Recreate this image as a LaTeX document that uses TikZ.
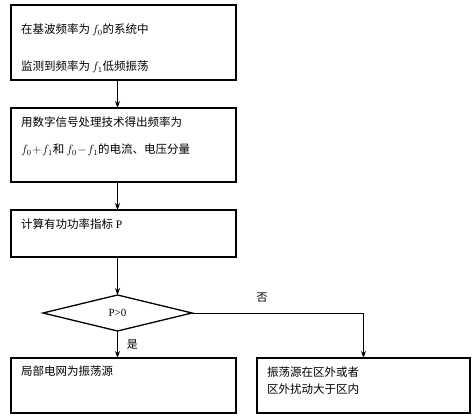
\documentclass[tikz,border=0pt]{standalone}
\usepackage{fontspec}
\setmainfont{Liberation Serif}
\newfontfamily\cjk{Noto Sans CJK SC}
\usetikzlibrary{arrows.meta,shapes.geometric}

\begin{document}
\begin{tikzpicture}[
    x=1pt,y=-1pt,
    >={Stealth[length=7pt,width=5pt]},
    flow/.style={->,line width=0.9pt},
    box/.style={draw,line width=1.3pt,inner sep=0pt,outer sep=0pt,minimum width=225pt},
    dec/.style={diamond,draw,line width=1.3pt,inner sep=0pt,outer sep=0pt,minimum width=149pt,minimum height=36pt,font=\fontsize{11}{13}\selectfont},
    txt/.style={anchor=base west,inner sep=0pt,font=\fontsize{11.5}{14}\selectfont\cjk},
    lab/.style={inner sep=0pt,font=\fontsize{11}{13}\selectfont\cjk}]
\useasboundingbox (0,0) rectangle (474,419);
% ===== boxes of the main column =====
\node[box,minimum height=75pt] (detect) at (123.5,42.5) {};
\node[box,minimum height=74pt] (dsp)    at (123.5,145)  {};
\node[box,minimum height=47pt] (power)  at (123.5,233.5) {};
\node[dec] (test) at (117.5,313) {P>0};
\node[box,minimum height=55pt] (local)  at (123.5,385.5) {};
\node[box,minimum height=55pt,minimum width=213pt] (outer) at (363.5,385.5) {};
% ===== texts inside the boxes =====
\node[txt] (t1a) at (21,34)  {在基波频率为$\,f_0$的系统中};
\node[txt] (t1b) at (21,71)  {监测到频率为$\,f_1$低频振荡};
\node[txt] (t2a) at (21,127) {用数字信号处理技术得出频率为};
\node[txt] (t2b) at (21,154) {$f_0\!+\!f_1$和$\,f_0\!-\!f_1$的电流、电压分量};
\node[txt] (t3)  at (21,229) {计算有功功率指标 {\rmfamily P}};
\node[txt] (t4)  at (21,376) {局部电网为振荡源};
\node[txt] (t5a) at (267,377) {振荡源在区外或者};
\node[txt] (t5b) at (267,394) {区外扰动大于区内};
% ===== connectors =====
\draw[flow] (detect.south -| test.north) -- (dsp.north -| test.north);
\draw[flow] (dsp.south -| test.north) -- (power.north -| test.north);
\draw[flow] (power.south -| test.north) -- (test.north);
\draw[flow] (test.south) -- (local.north -| test.south)
  node[lab,pos=0.5,right=9pt] (yes) {是};
\draw[flow] (test.east) -| (outer.north);
\node[lab] (no) at (262,298) {否};
\end{tikzpicture}
\end{document}
